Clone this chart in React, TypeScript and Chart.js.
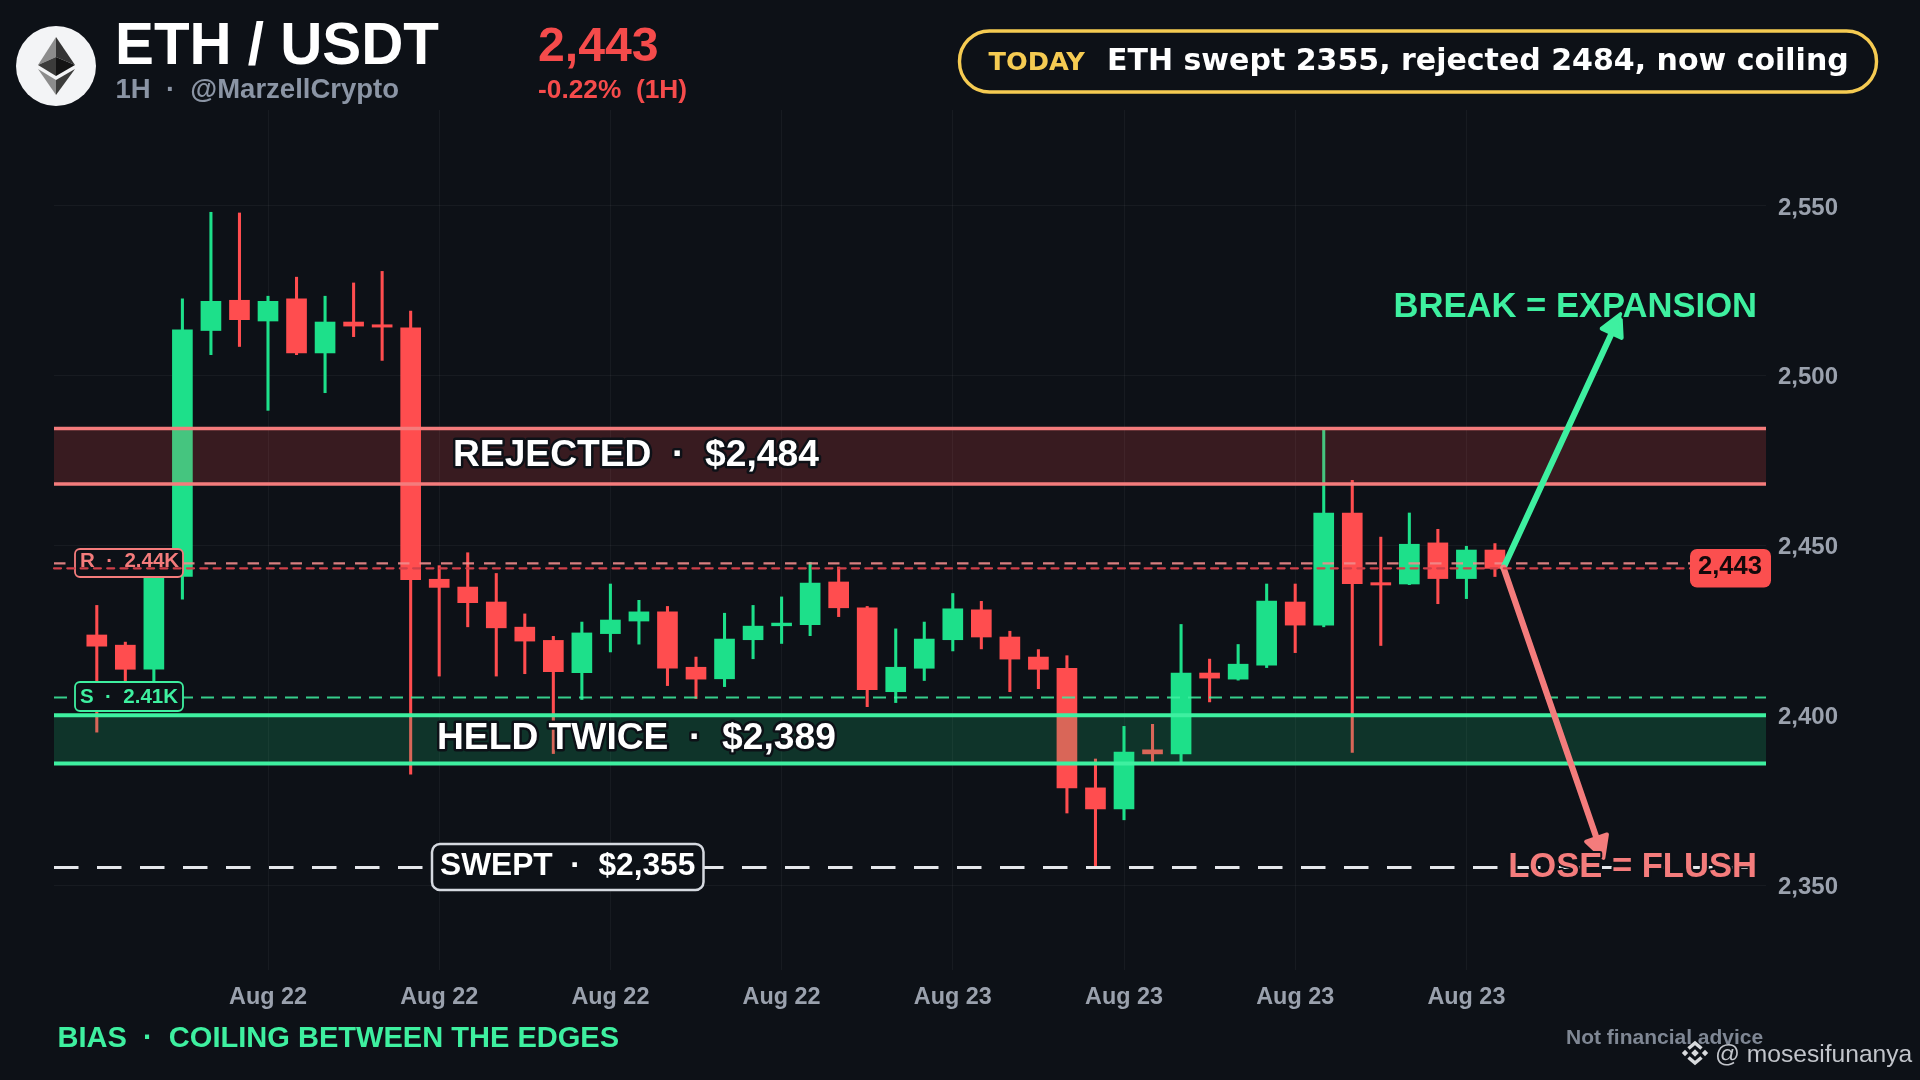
import React, { useEffect, useRef } from "react";
import { Chart, registerables } from "chart.js";

Chart.register(...registerables);

const opens = [2423.6,2420.6,2413.5,2440.8,2513.2,2522.1,2516,2522.5,2506.6,2515.7,2514.9,2514,2440,2437.7,2433.3,2425.9,2422,2412.5,2424,2427.7,2430.4,2414.1,2410.7,2422.2,2426.3,2426.6,2439.2,2431.6,2406.9,2413.8,2422.2,2431,2423,2417.1,2413.8,2378.6,2372.4,2389.8,2388.6,2412.4,2410.6,2414.7,2433.3,2426.5,2459.5,2439,2438.6,2450.7,2440.2,2448.6];
const highs = [2432.3,2421.5,2444,2522.5,2548,2547.8,2523.3,2528.9,2523.3,2527.2,2530.6,2518.9,2444,2447.8,2441.7,2429.8,2423.2,2427.4,2438.6,2433.8,2432,2417.1,2430,2432.3,2434.8,2445,2443.6,2432,2425.4,2427.4,2435.8,2433.5,2424.7,2419.3,2417.5,2387.1,2396.7,2397.3,2426.7,2416.5,2420.8,2438.6,2438.6,2484,2469.1,2452.4,2459.5,2454.7,2449.7,2450.5];
const lows = [2395,2409,2409,2434.1,2506.1,2508.5,2489.7,2506.1,2494.9,2511.4,2504.4,2382.6,2411.5,2426,2411.5,2412.2,2388.7,2404.6,2418.6,2420.9,2408.7,2404.9,2408.4,2416.6,2421.1,2423.4,2429,2402.5,2403.7,2410.2,2418.9,2419.5,2406.9,2407.8,2371.2,2355.2,2369.2,2386.1,2386.1,2403.9,2410.3,2414,2418.4,2426,2389,2420.5,2438.4,2432.8,2434.3,2440.8];
const closes = [2420.3,2413.5,2441,2513.4,2521.8,2516.4,2521.8,2506.6,2515.7,2514.5,2514.2,2439.9,2437.6,2433.1,2425.7,2421.8,2412.8,2424.2,2428,2430.4,2413.8,2410.6,2422.4,2426.2,2427.1,2438.9,2431.6,2407.5,2414.1,2422.4,2431.3,2423,2416.5,2413.5,2378.6,2372.4,2389.1,2388.6,2412.4,2410.9,2415,2433.6,2426.5,2459.5,2438.7,2438.3,2450.3,2440.2,2448.6,2443.2];

const leadSlots = 1;
const trailSlots = 9;
const xTickDates = ["Aug 22","Aug 22","Aug 22","Aug 22","Aug 23","Aug 23","Aug 23","Aug 23"];
const xTickEvery = 6;
const yTicks = [2350, 2400, 2450, 2500, 2550];
const yMin = 2325;
const yMax = 2578.1;

const resistanceZone = [2468, 2484.4];
const supportZone = [2385.8, 2400];
const levelR = 2444.7;
const levelLast = 2443.2;
const levelS = 2405.2;
const levelSwept = 2355.2;
const arrowStart = [49.3, 2443.4];
const arrowUpTip = [53.4, 2518];
const arrowDownTip = [52.8, 2358];

const BG = "#0d1117";
const UP = "#1de08a";
const DOWN = "#ff4d4f";
const ZONE_G = "#3ef0a0";
const ZONE_R = "#f47c7c";
const SANS = '"Liberation Sans"';
const DEJA = '"DejaVu Sans"';

function pad<T>(vals: T[]): (T | null)[] {
  return [...Array(leadSlots).fill(null), ...vals, ...Array(trailSlots).fill(null)];
}

const categories: string[] = pad(opens.map((_, i) => {
  const k = i / xTickEvery;
  return i > 0 && Number.isInteger(k) && xTickDates[k - 1] ? xTickDates[k - 1] : "";
})).map((l) => l ?? "");

const candleColors = pad(opens.map((o, i) => (closes[i] >= o ? UP : DOWN)));

function text(ctx: CanvasRenderingContext2D, s: string, x: number, y: number, font: string, color: string, align: CanvasTextAlign = "left", outline = 0, outlineColor = BG) {
  ctx.save();
  ctx.font = font;
  ctx.textAlign = align;
  ctx.textBaseline = "alphabetic";
  if (outline) {
    ctx.lineJoin = "round";
    ctx.lineWidth = outline;
    ctx.strokeStyle = outlineColor;
    ctx.strokeText(s, x, y);
  }
  ctx.fillStyle = color;
  ctx.fillText(s, x, y);
  ctx.restore();
}

function poly(ctx: CanvasRenderingContext2D, pts: number[][], color: string) {
  ctx.beginPath();
  pts.forEach((p, i) => (i ? ctx.lineTo(p[0], p[1]) : ctx.moveTo(p[0], p[1])));
  ctx.closePath();
  ctx.fillStyle = color;
  ctx.fill();
}

function box(ctx: CanvasRenderingContext2D, x: number, y: number, w: number, h: number, r: number, fill: string, stroke?: string, lw = 2) {
  ctx.beginPath();
  ctx.roundRect(x, y, w, h, r);
  ctx.fillStyle = fill;
  ctx.fill();
  if (stroke) {
    ctx.strokeStyle = stroke;
    ctx.lineWidth = lw;
    ctx.stroke();
  }
}

const overlay = {
  id: "overlay",
  beforeDraw(chart: any) {
    const { ctx, width, height } = chart;
    ctx.save();
    ctx.fillStyle = BG;
    ctx.fillRect(0, 0, width, height);
    ctx.restore();
  },
  afterDatasetsDraw(chart: any) {
    const { ctx, chartArea: a, scales } = chart;
    const Y = (v: number) => scales.y.getPixelForValue(v);
    const X = (i: number) => scales.x.getPixelForValue(i + leadSlots);
    ctx.save();

    const hline = (v: number, color: string, lw: number, dash: number[] = []) => {
      ctx.beginPath();
      ctx.setLineDash(dash);
      ctx.strokeStyle = color;
      ctx.lineWidth = lw;
      ctx.moveTo(a.left, Y(v));
      ctx.lineTo(a.right, Y(v));
      ctx.stroke();
      ctx.setLineDash([]);
    };

    ctx.fillStyle = "rgba(255,77,79,0.18)";
    ctx.fillRect(a.left, Y(resistanceZone[1]), a.width, Y(resistanceZone[0]) - Y(resistanceZone[1]));
    ctx.fillStyle = "rgba(29,224,138,0.17)";
    ctx.fillRect(a.left, Y(supportZone[1]), a.width, Y(supportZone[0]) - Y(supportZone[1]));
    hline(resistanceZone[1], ZONE_R, 3.5);
    hline(resistanceZone[0], ZONE_R, 3.5);
    hline(supportZone[1], ZONE_G, 4);
    hline(supportZone[0], ZONE_G, 4);

    hline(levelS, "rgba(62,240,160,0.85)", 2.2, [13, 8]);
    hline(levelSwept, "#e5e7eb", 3, [24.5, 18.5]);
    hline(levelR, "rgba(240,140,140,0.9)", 2.2, [11.5, 10]);

    const arrow = (from: number[], to: number[], color: string) => {
      const x0 = X(from[0]), y0 = Y(from[1]), x1 = X(to[0]), y1 = Y(to[1]);
      const ang = Math.atan2(y1 - y0, x1 - x0);
      const len = 21, half = 11;
      const bx = x1 - Math.cos(ang) * len, by = y1 - Math.sin(ang) * len;
      ctx.strokeStyle = color;
      ctx.lineWidth = 6.2;
      ctx.lineCap = "round";
      ctx.beginPath();
      ctx.moveTo(x0, y0);
      ctx.lineTo(bx, by);
      ctx.stroke();
      ctx.lineJoin = "round";
      ctx.lineWidth = 4;
      ctx.fillStyle = color;
      ctx.beginPath();
      ctx.moveTo(x1, y1);
      ctx.lineTo(bx - Math.sin(ang) * half, by + Math.cos(ang) * half);
      ctx.lineTo(bx + Math.sin(ang) * half, by - Math.cos(ang) * half);
      ctx.closePath();
      ctx.fill();
      ctx.stroke();
    };
    arrow(arrowStart, arrowUpTip, ZONE_G);
    arrow(arrowStart, arrowDownTip, ZONE_R);

    text(ctx, "REJECTED  ·  $2,484", 453, 466, `bold 37.2px ${SANS}`, "#ffffff", "left", 5);
    text(ctx, "HELD TWICE  ·  $2,389", 437, 748.7, `bold 37.2px ${SANS}`, "#ffffff", "left", 5);

    box(ctx, 432, 844, 271.5, 46, 8, BG, "#d5d9e0", 2.5);
    text(ctx, "SWEPT  ·  $2,355", 440, 875, `bold 31.7px ${SANS}`, "#ffffff", "left", 4);

    box(ctx, 75, 549, 108, 28, 5, BG, "#f47c7c", 1.8);
    text(ctx, "R  ·  2.44K", 80, 566.5, `bold 20.5px ${SANS}`, "#f47c7c");
    box(ctx, 75, 682, 108, 29, 5, BG, ZONE_G, 1.8);
    text(ctx, "S  ·  2.41K", 80, 702.5, `bold 20.5px ${SANS}`, ZONE_G);

    // The last-price line runs over the R tag
    hline(levelLast, "#d0404a", 2.2, [7, 6.3]);

    box(ctx, 1690, 549, 81, 38.5, 7, "#fb4f4f");
    text(ctx, "2,443", 1730, 574.4, `bold 25.6px ${SANS}`, "#14090b", "center");

    text(ctx, "BREAK = EXPANSION", 1757, 317, `bold 34.6px ${SANS}`, ZONE_G, "right", 4);
    text(ctx, "LOSE = FLUSH", 1757, 877, `bold 34.6px ${SANS}`, ZONE_R, "right", 4);

    // header
    ctx.beginPath();
    ctx.arc(56, 66, 40, 0, Math.PI * 2);
    ctx.fillStyle = "#f3f4f6";
    ctx.fill();
    poly(ctx, [[56, 37], [38, 65], [56, 57]], "#8c8c8c");
    poly(ctx, [[56, 37], [75, 65], [56, 57]], "#343434");
    poly(ctx, [[38, 65], [56, 57], [56, 76]], "#3c3c3b");
    poly(ctx, [[75, 65], [56, 57], [56, 76]], "#141414");
    poly(ctx, [[38, 69], [56, 95], [56, 80]], "#8c8c8c");
    poly(ctx, [[75, 69], [56, 95], [56, 80]], "#3c3c3b");

    text(ctx, "ETH / USDT", 115, 63.7, `bold 58.3px ${SANS}`, "#ffffff");
    text(ctx, "1H  ·  @MarzellCrypto", 115.5, 98, `bold 27.5px ${SANS}`, "#8b95a5");
    text(ctx, "2,443", 538, 61, `bold 48.2px ${SANS}`, "#f54b4b");
    text(ctx, "-0.22%  (1H)", 538, 98, `bold 26.3px ${SANS}`, "#f54b4b");

    box(ctx, 959.5, 31, 917, 61, 30, BG, "#f5cb52", 3.4);
    text(ctx, "TODAY", 988.5, 70, `bold 25.6px ${DEJA}`, "#f5cb52");
    text(ctx, "ETH swept 2355, rejected 2484, now coiling", 1107, 70, `bold 30px ${DEJA}`, "#ffffff");

    // footer
    text(ctx, "BIAS  ·  COILING BETWEEN THE EDGES", 57.5, 1047, `bold 29.05px ${SANS}`, ZONE_G);
    text(ctx, "Not financial advice", 1566, 1044, `bold 21px ${SANS}`, "#7f8794");

    // watermark
    const wm = "#d8dadd";
    const cx = 1695, cy = 1053;
    const diamond = (dx: number, dy: number, r: number) =>
      poly(ctx, [[cx + dx, cy + dy - r], [cx + dx + r, cy + dy], [cx + dx, cy + dy + r], [cx + dx - r, cy + dy]], wm);
    diamond(-10, 0, 3.2);
    diamond(10, 0, 3.2);
    diamond(0, 0, 3.8);
    ctx.strokeStyle = wm;
    ctx.lineWidth = 3.6;
    ctx.lineJoin = "miter";
    ctx.lineCap = "butt";
    [-1, 1].forEach((d) => {
      ctx.beginPath();
      ctx.moveTo(cx - 6.5, cy + d * 4.5);
      ctx.lineTo(cx, cy + d * 10);
      ctx.lineTo(cx + 6.5, cy + d * 4.5);
      ctx.stroke();
    });
    text(ctx, "@ mosesifunanya", 1715, 1062, `24.6px ${SANS}`, "#c2c5cb");

    ctx.restore();
  },
};

export default function App() {
  const ref = useRef<HTMLCanvasElement>(null);
  useEffect(() => {
    document.body.style.margin = "0";
    document.body.style.background = BG;
    const chart = new Chart(ref.current!, {
      type: "bar",
      data: {
        labels: categories,
        datasets: [
          {
            label: "Body",
            data: pad(opens.map((o, i) => [o, closes[i]])) as any,
            backgroundColor: candleColors as any,
            barThickness: 20,
            grouped: false,
            borderSkipped: false,
            order: 1,
          } as any,
          {
            label: "Wick",
            data: pad(lows.map((l, i) => [l, highs[i]])) as any,
            backgroundColor: candleColors as any,
            barThickness: 2.4,
            grouped: false,
            borderSkipped: false,
            order: 2,
          } as any,
        ],
      },
      options: {
        responsive: false,
        animation: false,
        devicePixelRatio: 1,
        layout: { padding: { left: 54, top: 110, right: 0, bottom: 0 } },
        plugins: { legend: { display: false }, tooltip: { enabled: false } },
        scales: {
          x: {
            type: "category",
            offset: true,
            border: { display: false },
            grid: {
              offset: false,
              drawTicks: false,
              color: (c: any) => (categories[c.index] ? "rgba(255,255,255,0.045)" : "transparent"),
            },
            ticks: {
              autoSkip: false,
              maxRotation: 0,
              padding: 14,
              color: "#9aa1ad",
              font: { family: "Liberation Sans", weight: "bold", size: 23.4 },
              callback: (_: any, i: number) => categories[i],
            },
            afterFit: (s: any) => { s.height = 110; },
          },
          y: {
            type: "linear",
            position: "right",
            min: yMin,
            max: yMax,
            border: { display: false },
            grid: { drawTicks: false, color: "rgba(255,255,255,0.045)" },
            afterBuildTicks: (s: any) => { s.ticks = yTicks.map((value) => ({ value })); },
            ticks: {
              padding: 12,
              labelOffset: 2.5,
              color: "#9aa1ad",
              font: { family: "Liberation Sans", weight: "bold", size: 24 },
              callback: (v: any) => Number(v).toLocaleString("en-US"),
            },
            afterFit: (s: any) => { s.width = 154; },
          },
        },
      } as any,
      plugins: [overlay],
    });
    return () => chart.destroy();
  }, []);
  return <canvas ref={ref} width={1920} height={1080} style={{ display: "block", width: 1920, height: 1080 }} />;
}
